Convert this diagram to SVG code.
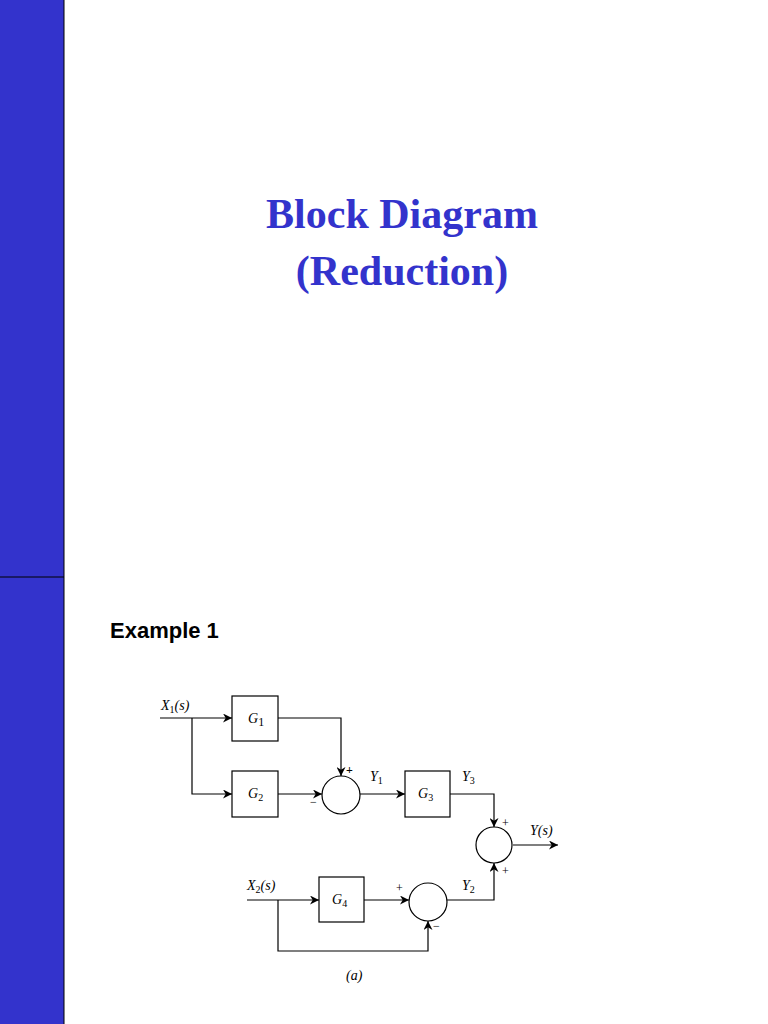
<svg xmlns="http://www.w3.org/2000/svg" width="768" height="1024" viewBox="0 0 768 1024">
<style>
.b{fill:#fff;stroke:#000;stroke-width:1.2}
.l{fill:none;stroke:#000;stroke-width:1.2}
.m{font-family:"Liberation Serif",serif;font-style:italic;font-size:14px}
.s{font-family:"Liberation Serif",serif;font-size:12px}
</style>
<defs><marker id="a" viewBox="0 0 10 10" refX="10" refY="5" markerWidth="9" markerHeight="9" orient="auto" markerUnits="userSpaceOnUse"><path d="M0,0 L10,5 L0,10 L3,5z" fill="#000"/></marker></defs>
<rect width="768" height="1024" fill="#fff"/>
<rect x="0" y="0" width="64" height="1024" fill="#3333cc"/>
<line x1="0" y1="577" x2="64" y2="577" stroke="#000" stroke-width="1"/>
<line x1="64" y1="0" x2="64" y2="1024" stroke="#000" stroke-width="1"/>
<text x="402" y="228" text-anchor="middle" font-family="Liberation Serif,serif" font-weight="bold" font-size="42" fill="#3333cc">Block Diagram</text>
<text x="402" y="285" text-anchor="middle" font-family="Liberation Serif,serif" font-weight="bold" font-size="42" fill="#3333cc">(Reduction)</text>
<text x="110" y="638" font-family="Liberation Sans,sans-serif" font-weight="bold" font-size="22">Example 1</text>
<g id="connectors" class="l">
<path d="M160,718 H232" marker-end="url(#a)"/>
<path d="M192,718 V794 H232" marker-end="url(#a)"/>
<path d="M278,718 H341 V776" marker-end="url(#a)"/>
<path d="M278,794 H322" marker-end="url(#a)"/>
<path d="M360,794 H405" marker-end="url(#a)"/>
<path d="M450,794 H494 V827" marker-end="url(#a)"/>
<path d="M513,845 H558" marker-end="url(#a)"/>
<path d="M247,900 H319" marker-end="url(#a)"/>
<path d="M364,900 H409" marker-end="url(#a)"/>
<path d="M278,900 V951 H428 V921" marker-end="url(#a)"/>
<path d="M447,900 H494 V863" marker-end="url(#a)"/>
</g>
<g id="G1"><rect class="b" x="232" y="696" width="46" height="45"/><text class="m" x="248" y="723">G<tspan class="s" dy="3" font-style="normal" font-size="10">1</tspan></text></g>
<g id="G2"><rect class="b" x="232" y="771" width="46" height="46"/><text class="m" x="248" y="798">G<tspan dy="3" font-style="normal" font-size="10">2</tspan></text></g>
<g id="G3"><rect class="b" x="405" y="771" width="45" height="46"/><text class="m" x="418" y="798">G<tspan dy="3" font-style="normal" font-size="10">3</tspan></text></g>
<g id="G4"><rect class="b" x="319" y="877" width="45" height="45"/><text class="m" x="332" y="904">G<tspan dy="3" font-style="normal" font-size="10">4</tspan></text></g>
<g id="sum1"><circle class="b" cx="341" cy="795" r="19"/><text class="s" x="346" y="774" font-weight="bold">+</text><text class="s" x="310" y="806">−</text></g>
<g id="sum2"><circle class="b" cx="428" cy="902" r="19"/><text class="s" x="396" y="892">+</text><text class="s" x="433" y="930">−</text></g>
<g id="sum3"><circle class="b" cx="494" cy="845" r="18"/><text class="s" x="502" y="827">+</text><text class="s" x="502" y="875">+</text></g>
<g id="labels">
<text class="m" x="161" y="710">X<tspan dy="3" font-style="normal" font-size="10">1</tspan><tspan dy="-3">(s)</tspan></text>
<text class="m" x="247" y="890">X<tspan dy="3" font-style="normal" font-size="10">2</tspan><tspan dy="-3">(s)</tspan></text>
<text class="m" x="370" y="781">Y<tspan dy="3" font-style="normal" font-size="10">1</tspan></text>
<text class="m" x="462" y="781">Y<tspan dy="3" font-style="normal" font-size="10">3</tspan></text>
<text class="m" x="462" y="890">Y<tspan dy="3" font-style="normal" font-size="10">2</tspan></text>
<text class="m" x="530" y="835">Y(s)</text>
<text class="m" x="346" y="980">(a)</text>
</g>
</svg>
